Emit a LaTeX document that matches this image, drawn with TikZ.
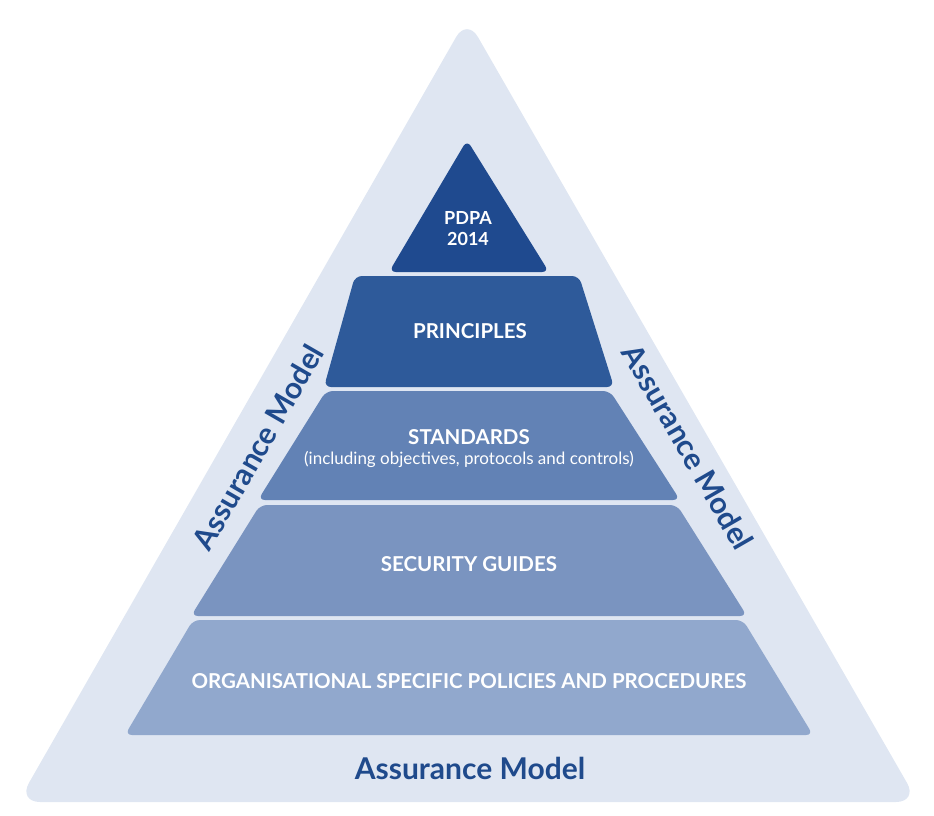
\documentclass[tikz,border=0pt]{standalone}
\usepackage{fontspec}
\setmainfont{Lato}
\definecolor{bgtri}{HTML}{DFE6F2}
\definecolor{navy}{HTML}{1F4A8C}
\definecolor{cA}{HTML}{1F4A8F}
\definecolor{cB}{HTML}{2E5A9A}
\definecolor{cC}{HTML}{6282B5}
\definecolor{cD}{HTML}{7A94C0}
\definecolor{cE}{HTML}{91A8CD}
\tikzset{
  layer/.style={rounded corners=7pt, draw=none},
  ltext/.style={text=white, font=\fontsize{20.5}{23}\selectfont\bfseries, align=center},
  side/.style={text=navy, font=\fontsize{30}{33}\selectfont\bfseries}
}
\begin{document}
\begin{tikzpicture}[x=1pt,y=-1pt]
\useasboundingbox (0,0) rectangle (934,815);
\fill[bgtri, rounded corners=22pt] (467,18) -- (918,802) -- (18,802) -- cycle;
\fill[cA, layer] (467,140) -- (549,272) -- (389,272) -- cycle;
\fill[cB, layer] (355,276) -- (579,276) -- (614,387) -- (324,387) -- cycle;
\fill[cC, layer] (326,391) -- (610,391) -- (680,500) -- (258,500) -- cycle;
\fill[cD, layer] (260,505) -- (677,505) -- (747,616) -- (191,616) -- cycle;
\fill[cE, layer] (193,620) -- (743,620) -- (813,735) -- (125,735) -- cycle;
\node[ltext, font=\fontsize{18}{21}\selectfont\bfseries] (pdpa) at (468,229) {PDPA\\2014};
\node[ltext] (pri) at (470,331) {PRINCIPLES};
\node[ltext] (std) at (469,437) {STANDARDS};
\node[text=white, font=\fontsize{17}{19}\selectfont] (stdsub) at (469,459) {(including objectives, protocols and controls)};
\node[ltext] (sec) at (469,564) {SECURITY GUIDES};
\node[ltext] (org) at (469,681) {ORGANISATIONAL SPECIFIC POLICIES AND PROCEDURES};
\node[side, rotate=60] (lm) at (258,447) {Assurance Model};
\node[side, rotate=-60] (rm) at (688,447) {Assurance Model};
\node[side] (bm) at (470,768) {Assurance Model};
\end{tikzpicture}
\end{document}
